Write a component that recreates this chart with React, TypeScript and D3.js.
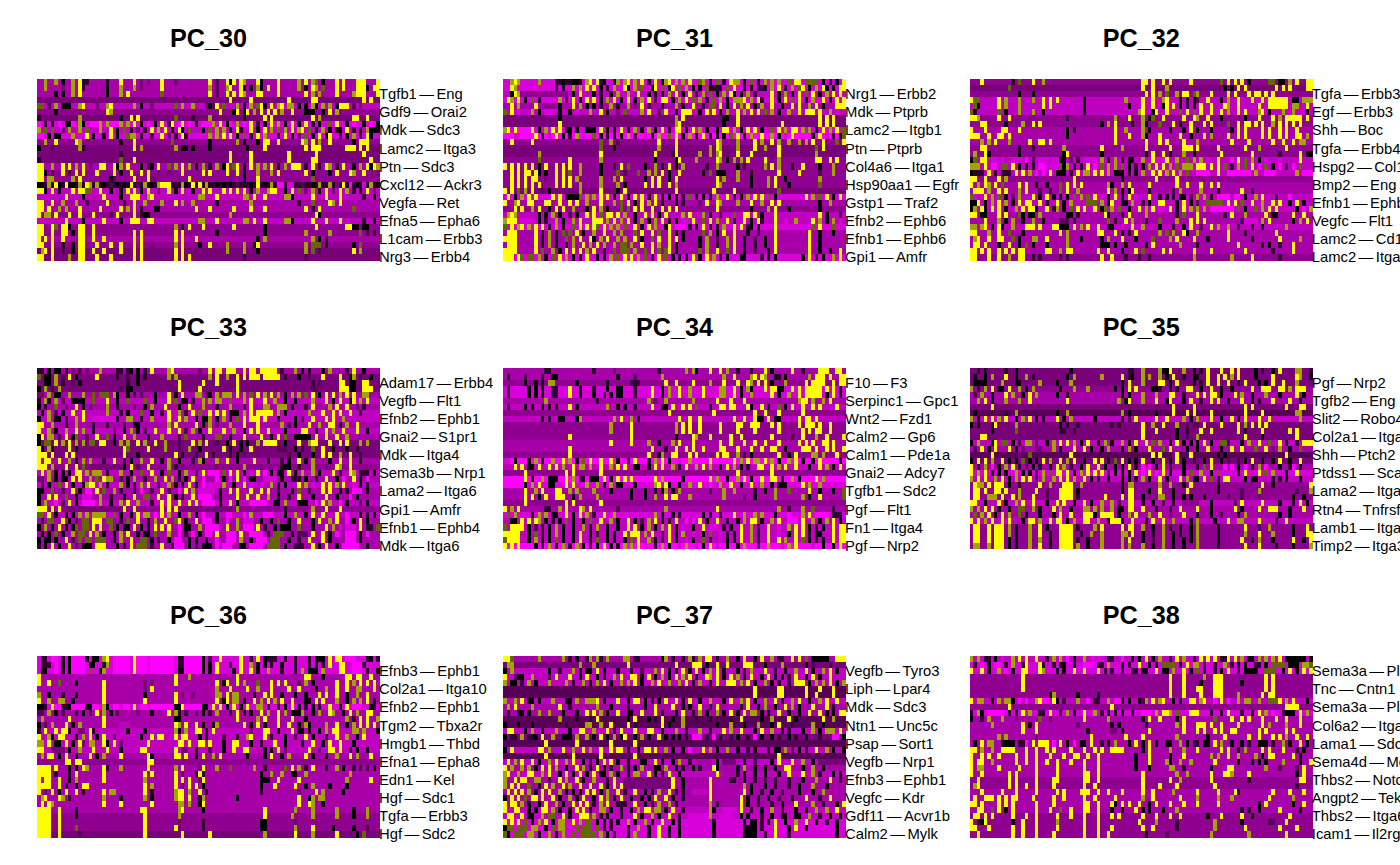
import React from "react";
import * as d3 from "d3";

const titles = ["PC_30","PC_31","PC_32","PC_33","PC_34","PC_35","PC_36","PC_37","PC_38"];
const labels = [
["Tgfb1-Eng","Gdf9-Orai2","Mdk-Sdc3","Lamc2-Itga3","Ptn-Sdc3","Cxcl12-Ackr3","Vegfa-Ret","Efna5-Epha6","L1cam-Erbb3","Nrg3-Erbb4"],
["Nrg1-Erbb2","Mdk-Ptprb","Lamc2-Itgb1","Ptn-Ptprb","Col4a6-Itga1","Hsp90aa1-Egfr","Gstp1-Traf2","Efnb2-Ephb6","Efnb1-Ephb6","Gpi1-Amfr"],
["Tgfa-Erbb3","Egf-Erbb3","Shh-Boc","Tgfa-Erbb4","Hspg2-Col18a1","Bmp2-Eng","Efnb1-Ephb1","Vegfc-Flt1","Lamc2-Cd151","Lamc2-Itga3"],
["Adam17-Erbb4","Vegfb-Flt1","Efnb2-Ephb1","Gnai2-S1pr1","Mdk-Itga4","Sema3b-Nrp1","Lama2-Itga6","Gpi1-Amfr","Efnb1-Ephb4","Mdk-Itga6"],
["F10-F3","Serpinc1-Gpc1","Wnt2-Fzd1","Calm2-Gp6","Calm1-Pde1a","Gnai2-Adcy7","Tgfb1-Sdc2","Pgf-Flt1","Fn1-Itga4","Pgf-Nrp2"],
["Pgf-Nrp2","Tgfb2-Eng","Slit2-Robo4","Col2a1-Itga1","Shh-Ptch2","Ptdss1-Scarb1","Lama2-Itga1","Rtn4-Tnfrsf19","Lamb1-Itga1","Timp2-Itga3"],
["Efnb3-Ephb1","Col2a1-Itga10","Efnb2-Ephb1","Tgm2-Tbxa2r","Hmgb1-Thbd","Efna1-Epha8","Edn1-Kel","Hgf-Sdc1","Tgfa-Erbb3","Hgf-Sdc2"],
["Vegfb-Tyro3","Liph-Lpar4","Mdk-Sdc3","Ntn1-Unc5c","Psap-Sort1","Vegfb-Nrp1","Efnb3-Ephb1","Vegfc-Kdr","Gdf11-Acvr1b","Calm2-Mylk"],
["Sema3a-Plxna1","Tnc-Cntn1","Sema3a-Plxna2","Col6a2-Itga1","Lama1-Sdc1","Sema4d-Met","Thbs2-Notch1","Angpt2-Tek","Thbs2-Itga6","Icam1-Il2rg"],
];

// Level codes -> scaled value on the purple/black/yellow ramp (estimated by eye).
const levels: Record<string, number> = {m:-2.5,n:-2.12,b:-1.88,c:-1.65,e:-1.41,f:-1.18,g:-0.86,x:-0.47,k:0,d:1,o:1.6,y:2.5};

// Each row: base level, then marks "column[-column]level". 30 rows, 100 columns.
const pc30 = [
"c 2o 5o 7k 10o 12y 13-14x 20x 24y 28y 30f 32f 36y 40f 50y 52g 55y 56k 57y 59y 60o 64y 65k 70y 76o 78y 80o 81d 83k 87y 89y 93-95y 99y",
"c 2o 7f 10o 12y 13x 20k 24o 28o 30f 36y 50o 52g 55o 56y 59y 60x 62k 64o 65k 67y 70y 76o 78k 80y 81o 83d 87y 89y 93-95y 96k 98y 99y",
"c 5k 7k 10o 12y 20k 24o 26y 36d 50y 52g 55y 57y 59y 60o 64-65y 70y 78y 80o 82o 87y 92o 93-95y 99y",
"f 56y 62y 73y 80-81y 95y 97y",
"b 0-1d 3g 5o 7k 8-9k 12o 13y 17f 20o 21y 28o 30k 33f 40d 42o 45o 49f 50k 51g 52y 54d 58o 60k 62o 64d 65y 66k 68y 70o 71y 73o 74o 76k 78k 80o 81k 83o 85o 87k 88-90y 92g 94f",
"e 5k 20y 21o 53y 57k 58y 60k 61y 63o 65y 67y 69y 71o 74y 78-79k 80k 83k 85y 87o",
"f 0x 12o 24k 27y 29y 32f 40d 45x 48f 50o 60k 66y 68y 72f 80y 82o 92-93y 96y",
"n 0m 2x 4k 6m 8-9k 10m 12o 13k 15-17m 18o 20o 21-23m 24o 26o 28y 30k 32m 34k 36y 38x 39y 41m 42y 44m 46k 48-50m 51o 53y 55k 56m 58o 60m 62y 64x 66k 68y 70o 72k 74y 76k 78y 80x 82k 85d 87y 90k 92m 95k 97m 99k",
"b 0o 2d 4d 7f 9o 12o 14d 16b 18o 21y 23k 25d 27x 29f 31x 33y 35o 37y 39k 41y 42k 44d 48k 50d 52o 54o 56k 58y 59x 62y 64k 66y 68o 70d 72o 74y 76o 77y 79d 81k 83o 85k 87x 88k 90y 92x 94k 96o 97-99k",
"n 0-1m 3k 5k 6k 10o 14y 16k 19k 21y 23k 26d 27-28o 30x 33g 36y 38f 40x 42y 43x 50o 52o 54y 56y 58k 60d 62x 64y 66o 70x 72y 74k 76f 78d 80k 82y 84k 85y 88x 90k 92o 94x 96y 97k",
"e 2o 5y 11y 12o 24k 28y 39d 50k 58o 60k 64k 66-67y 70y 77y 78o 80y 82o 85y 92k 94-96y",
"f 0k 4g 12o 13x 28y 30o 40o 42-43k 45k 50k 61k 66y 78y 80y 81-82y 90-92y 94y 96y",
"f 24x 40f 56-56y 62y 73y 81y 95y",
"f 0x 24d 28y 56y 62y 73y 80-81y 97y",
"c 0-1y 4o 7y 9y 11o 13y 15f 18-19y 22y 24o 23k 26y 30k 32g 33k 35y 38d 40o 42y 44o 46k 48o 50x 52o 54k 55y 57d 58y 60k 62y 64o 66o 68y 70k 72o 74-76y 78x 80y 82x 84y 85o 87x 89y 92k 94o 96y 97k 98y 99o",
"e 0-1y 2k 4g 7y 9g 11y 13y 17y 22y 24k 27y 30y 32y 35f 38f 42y 48y 50y 55y 58y 60k 64o 68o 70y 78y 80k 85k 87y 91y 92o 95y 99f",
"e 0-1y 3-4o 10o 12y 21k 22g 28y 32y 33-34f 44y 56f 60k 64y 80d",
"x 0-1k 3o 5y 6k 8y 9k 10k 12o 14y 15o 17o 19k 21g 23k 25k 27y 29g 31o 33k 35o 36-38y 40x 42o 43k 45y 47y 49o 52k 54k 56k 58g 60x 62k 64y 66k 68o 70-71m 73n 74n 77g 78x 80k 82o 85o 87f 89y 91m 93k 95n 97o 99k",
"b 0-1y 2k 4y 6k 10y 12-13y 14d 15d 18y 21k 24k 26y 28y 30k 32y 35f 38y 40k 42y 45k 48y 50y 54y 56y 58y 60y 62k 64o 67o 68-69y 72k 74y 76d 78f 80o 82k 84y 86f 88y 90o 92x 94k 96y 98f",
"b 8y 13k 19y 24k 27-29y 32o 33y 47o 48o 52y 60o 61o 63y 66y 72-73o 74k 80y 84y 88y 95x 98k",
"c 0-1y 4y 7o 11o 14g 20y 25x 28y 31o 36o 40y 42o 45o 52x 62o 76x 80d 85y 86o 88y",
"c 0-1y 3y 6o 8o 12y 18y 24y 26o 28y 30x 34-35k 46y 50y 57y 62y 66y 78y 80x 82y 92d",
"e 0y 2-3o 5y 9y 12y 16y 21g 23y 28y 30x 31k 32k 56o 72-73e 81y 82k",
"b 8y 13k 19y 24k 27-29y 32y 33y 47o 48o 52y 60o 61o 63y 66y 72-73o 74k 80y 84y 88y 95x 98k",
"e 0-1y 4y 5d 7-8y 9k 12-13y 16y 40o 42k 44y 48y 57y 66k 81y 90-91y 92k 93k 95-96k",
"e 0-1y 4y 7-8y 10k 12-13y 16y 28y 30y 40y 42y 52k 66k 78o 85o 94d 96g 98x",
"c 0y 2y 4y 7y 12-13y 16y 19y 28y 30y 40y 42y 46y 64k 66o 80o 82k 84x",
"e 0-1y 4y 7x 10k 12-13y 17y 21y 24y 28y 30y 33f 40o 42y 47k 50y 55o 60o 63k 64y 78o 80-82d 84k 92k 94d",
"f 1o 2y 4y 7g 10k 12-13y 16y 19y 24y 28y 30y 40y 42y 55o 60o 64k 78o 80d 82g 92y 94o",
"f 0y 1y 4y 7f 9o 12-13y 17y 21y 28y 30y 40y 42y 44y 60x 78g",
];
const pc31 = [
"n 2o 3y 4o 5n 10o 15-16x 17k 18-19x 20-21k 22x 24o 25y 27y 28x 29k 32x 33o 35o 36y 38o 40y 42x 44y 46k 47o 48y 50o 52o 54y 57d 58o 60k 62d 64x 66y 67-68o 70k 72d 74k 76o 78o 80o 83d 85-86y 88-91d 93k 95x 97k 99y",
"n 2y 3o 5n 11-14n 15x 17x 20o 22o 24y 26y 28k 30x 32o 35y 36k 38o 40d 43k 44y 46d 48k 49y 51d 53o 55k 57k 59d 60-63x 65d 67y 70k 72x 74-76x 78o 80y 82x 84o 86d 87y 89k 91o 93y 94k 96k 98y 99y",
"b 2k 3y 4o 5-18e 20k 22y 26k 28x 31k 33o 36o 39y 42k 44x 46k 48o 50y 52k 54y 56x 58o 60d 62k 64o 66y 67k 69k 71o 73x 78y 80k 82o 84k 86y 88d 90y 92k 94o 96y 98y",
"n 1y 2o 4y 6k 8d 10x 12-14n 16o 18x 20y 22k 24y 26y 28k 30o 32y 34k 36y 38k 40o 42y 44g 46-47y 49k 51o 53y 55d 57o 59x 61d 63o 65k 67-69o 70y 72o 74y 75x 78y 80k 82y 84d 86y 88k 90o 93y 95k 97y 99y",
"c 2y 4o 9y 12-14e 16k 20y 22o 24k 26k 28x 31o 33x 36o 38f 40y 42g 46x 50o 52k 55y 58x 60-61d 63y 65k 67y 69o 71y 73k 75o 78y 81k 84y 86y 89o 91y 93k 97y 98-99y",
"b 0d 2y 4n 8o 10k 12-14n 16k 19k 21n 25o 28y 30k 33f 35d 40o 42y 45g 47y 50k 52y 53-54y 57k 59y 61y 63k 65o 68y 70o 72y 74y 76d 78o 80k 83o 86y 88-90y 92y 95o 97n",
"f 16k 50o 52y 58-60f 64-65k 68y 70-71f 81f 92y 94y 96y",
"f 16y 50o 51y 64k 68y 81y 92y 94y 96y",
"n 0o 1y 3y 4-7m 8y 10k 12o 14y 16y 18x 19k 21k 24-26k 28y 30k 32k 34y 36k 38o 40k 42o 44k 46y 48x 50-51y 53k 55y 57o 59k 62k 64-65y 67o 69k 71y 73y 75k 78d 80y 82o 84-85y 87o 89o 91k 93y 95o 97y 99d",
"m 3-4n 9y 11x 13n 15y 17k 19x 21o 23n 26d 28k 30x 32k 34k 36o 38g 41n 43k 45o 48d 50y 52k 54o 56k 58y 60k 62x 64k 66d 68y 70k 72o 75y 78o 80k 82n 84y 86m 90k 92y 94n 96x 98k 99d",
"e 2y 8y 28d 31o 33g 45y 50y 62y 63o 68o 73y 75o 78y 80o 83o 86o 88o 90y 93y 97d 99y",
"f 28d 32k 45o 50y 60o 62y 63o 68o 73y 76o 80y 91d 93y",
"f 10o 28y 44y 49x 50y 57o 60o 62o 63y 68y 72y 80y 91o",
"e 10d 19y 28o 44k 50k 51y 56o 62y 63o 65k 67o 69o 71y 76y 78f 80o 91y 92y 95y 97y",
"e 0y 2y 4y 6y 8y 10k 12y 15y 17y 19y 22o 28k 32x 34y 36d 41k 44o 46k 48y 50k 52o 59x 62o 68k 70x 76o 78y 80o 84k 87y 92k 96o",
"e 2y 4y 6y 7y 9y 10k 12k 15y 17y 19d 22o 28k 33d 35g 39d 42o 44o 46y 48k 51y 58k 60d 62-64k 68o 72x 80y 86y 92g 96o",
"e 2y 4y 6y 8-9y 12f 15y 17y 19y 21o 28o 32o 34y 41k 43y 45y 48k 50y 62y 64o 68o 72k 77o 79y 82k 92o",
"e 2y 4y 6y 8y 10y 15y 17y 19y 22o 28o 33o 35k 41y 43y 45y 48y 50o 62y 63o 72k 77o 79y 83k 92d",
"f 0y 2y 4d 6o 8y 11g 13k 22o 28y 33k 35y 40f 44f 50y 60f 61y 67y 80d",
"n 1y 3k 5o 7y 9y 11-12n 14y 16y 18x 19-21k 22d 24o 26o 28y 30y 32k 34y 36k 38y 40y 42x 44y 46k 48k 50k 52x 54d 56k 58k 60k 62o 65y 67x 69k 71o 73y 75y 77d 79k 81-86n 88y 90o 92d 94y 96k 98y",
"c 0y 3o 4y 7-8y 12-13y 16y 19y 21y 24o 28y 32o 34d 36y 38k 40y 42o 44y 46k 50k 52x 57f 59y 62y 63o 68o 72y 75o 78y 80y 92k 95o",
"e 3y 5y 8o 10y 13k 15y 17y 20o 24k 26y 28o 30k 34d 36d 38y 40y 43y 46y 48y 50y 62y 72k 77o 79y 83k 92k",
"b 1o 2y 3o 5-8b 10k 12k 14o 16k 19g 21k 24y 26y 28d 30y 31y 33y 35o 38k 41y 43y 45k 47y 52o 54y 58o 60k 63g 67d 70-71y 73y 75k 79y 82-88b 92y 94k 98x",
"b 0o 1-3y 5-8n 10k 12x 15o 17k 20o 22y 26-27y 28y 30o 32y 34o 36y 38k 40o 42k 44o 46y 48x 50k 52-53n 55y 58d 60y 62o 65y 67x 70y 72k 74y 75x 79y 82n 85o 90y 92o 94k 96o 98n",
"n 0d 2y 4o 5y 7o 9y 11y 13x 15o 17x 20d 22y 24y 26y 27d 29y 31o 33o 35d 38y 40k 42y 44o 47k 48y 50-51m 52m 54x 56k 58y 60k 62x 64o 67y 69y 71x 72k 74k 79y 81-88n 90d 92y 96d",
"c 1-3y 4-8c 9y 11x 13o 15k 17d 19d 21y 23k 26o 29y 32o 34o 38d 40y 43y 45d 48y 50k 52k 58d 60o 62k 64y 67y 71k 74g 79y 89y 92k 96k",
"c 0-3y 5-8c 9y 11k 13o 15k 18d 20o 22y 25y 26k 28o 30y 33o 35o 38y 40k 43d 45y 48y 50y 52k 57k 59o 62g 65o 67y 70k 73g 76k 79y 89y 92k",
"c 1-3y 9y 11k 13o 15k 18x 20o 23y 25o 27y 29o 32o 34-35d 37o 40y 43y 45o 48y 50k 57k 59o 62x 65o 67y 70k 73x 76k 79y 89y 92k",
"c 0-3y 9y 11d 14o 16k 18y 20y 22y 24o 26y 29x 32d 34-36d 38o 41d 43y 45d 47d 48y 50k 57d 59o 62y 65d 67y 70k 73g 77k 79y 89y 92k 95k 98y",
"n 0-2y 4y 5d 7-8d 10o 12k 14d 16y 18o 20k 22k 24y 27k 29k 31o 33d 35y 37y 39o 41d 43x 45y 47d 49k 51x 53k 55y 57k 59y 61o 63x 65k 67n 69-70k 73n 75x 77k 79k 81-85n 87k 89y 91x 93k 96o 98y",
];
const pc32 = [
"e 3y 12x 14d 18y 21o 50y 51y 53y 56y 58y 64y 73d 75y 77y 79y 81k 87-88d 90-91k 93o 95y 98-99y",
"f 11d 50y 53y 57o 74k 76k 78y 80y 89y 91y 93y 98-99y",
"e 14k 18k 51y 53y 55o 57d 60o 62-63y 65d 66o 70y 75y 77y 81y 83-84y 86y 88y",
"b 0y 1-2d 8y 10o 14o 18o 21y 23y 25y 33k 45o 50y 53y 56o 57y 61k 63x 65k 66g 69y 73k 75o 78y 82y 85y 87-92y 94-95k 97-99o",
"b 1d 2k 8y 10o 14o 21y 23y 33k 46k 50y 53y 56k 57y 59y 61k 63x 65k 67y 70y 74y 75o 78y 84y 87-92y 94-95o 98y",
"b 0d 1x 8d 10k 14o 18o 21k 33k 49o 50y 53k 54y 57y 61d 63y 65d 67y 70y 73y 75o 78y 80y 84o 85y 87k 91o 94o 98x",
"e 0-1y 2o 8y 11y 28x 42o 46y 50o 52k 53d 56y 62y 65y 66o 69y 73k 80k 84y 88y 90o 92-94y 95-96y 98y",
"e 3y 4y 10k 15o 18y 20y 38k 40o 42y 47k 50o 51k 55d 59y 61k 64y 68y 70y 75d 78y 80-81y 83y 85y 88o 90y 92y 94y 96y",
"c 0y 4y 9-10y 14y 28k 30k 42y 45o 50o 52k 58k 62k 64y 66k 70k 76k 78y 80y 85y 87y 90y 92y 95y",
"c 0-2y 5y 8-9y 11y 28k 42y 46y 50o 51k 55y 61y 64k 68y 70o 75y 78y 80y 85y 87y 90y 92y 95-96y 98o",
"c 3o 5o 7y 11o 17y 20-21y 23y 42y 51y 55y 57y 62y 66o 76y 81y 88y 91y 94y 96-97o",
"e 3y 4y 14x 18x 27o 38y 44o 51y 58y 62y 63-64y 66y 72y 80y 84o 92y",
"e 1o 4y 5k 14k 28y 27k 38k 51k 53y 56y 58k 62o 65k 73y 82y 90x 96y 98-99k",
"b 0k 1d 3-4y 6-7n 9n 12-14n 16m 18g 20-22n 24-25n 26k 27k 29f 31x 33-36n 38o 40k 42o 44x 46k 47k 50o 53y 54-56n 57y 60o 63d 65o 67o 69n 72y 76m 78y 80d 82o 84k 86n 90n 96y",
"b 0o 1o 2o 4y 6-7m 9d 10d 12y 14k 16k 18x 20-21m 23-25n 26d 27k 28o 30x 32x 34y 36m 38d 40o 42o 44d 46k 48x 50k 52o 54y 56y 58o 60d 62-64o 66-68y 70y 72y 74d 76x 78o 80d 82y 84m 86d 88k 90m 92x 94m 96d",
"b 0k 1-3x 5y 7x 9-11x 13y 15y 17o 19m 21m 23y 25-26k 27k 29x 31y 33-34o 36y 38y 40o 42-44k 46x 48k 50o 53y 55y 57o 59y 61o 63d 66-69m 72y 75-81m 83o 86-88m 95o 97-99m",
"e 0-1y 4y 8y 10o 30y 44k 54y 60y",
"c 0y 2o 4y 5o 7y 9d 14y 16y 19k 22k 26d 28y 30y 32y 40o 41k 44o 46y 52y 60y 63y 67y 70y 72y",
"c 1-3y 5o 8y 10y 14o 16y 20g 23x 26d 28y 31o 40y 42o 44k 46k 47y 52x 59g 61o 67o 72k 79y 82x",
"b 0d 1n 4y 6o 8d 10k 12g 14o 18y 20k 22y 24k 26k 28k 30d 32o 34d 36y 38n 40k 42y 44k 46y 48n 52y 55x 57k 59x 61-62k 64g 66o 68o 70x 72-75m 77-78m 80k 83o 85y 89x 93m",
"b 0-1k 2y 4k 6o 8y 10o 12k 14y 16-17y 20y 22x 25y 27k 29o 34-36d 38o 40k 41y 44-45k 47o 50x 52k 55-56y 60k 62y 64k 66g 69-73d 75y 77y 79d 82y 85o 88y 90y 93k 95y 97k",
"b 0k 1o 3y 4k 6y 8y 10k 13o 15y 17-18y 19k 22y 24x 25o 27k 29d 31y 33y 36y 38k 39d 41o 43d 46k 49y 51o 53y 55-56n 58y 60k 62y 64o 66o 68o 70-76m 78d 80k 83d 85o 87y 89y 95k 97m 99o",
"c 0-1y 3-4k 8y 10y 14d 15k 17-18k 20o 28-29k 31x 39y 40k 44x 46y 51o 60x 62d 66y 74x 76y 80o 86y 88k 89k 94y 97y",
"c 4y 8o 10k 12o 15k 18o 21k 26-28g 30x 40d 42x 45y 47o 51x 55d 60o 64y 66y 68y 79g 80-83n 85o 87y 94k 96o 98y",
"b 0o 1o 3o 4y 6k 8y 9k 12o 16-18y 20y 24y 25y 26k 27-28k 30y 32o 34y 37y 40k 41k 44n 47y 50o 55k 59x 62k 64y 67g 70y 72o 75o 78x 82x 85k 92o",
"c 0-1y 5o 8y 11d 15k 26y 28o 37-38y 42y 44k 46x 48y 55o 57d 59o 62y 63k 66o 75y 80x 89y",
"c 1o 2y 5y 8y 9y 12d 14k 18-19o 22y 28o 32k 38k 40o 44y 48k 53d 58o 60y 65y 69k 75y 82k 90y 96o",
"c 1-2y 4y 8k 11y 14k 16d 18k 22k 28o 38-40k 42k 45k 51k 53y 61o 66x 78y 85k 87k 90x 94y",
"c 0-1y 3y 5y 8y 10y 12y 14y 15y 22-23y 26o 28-29y 37y 40y 44k 48y 50d 56y 58y 65y 70y 80y 88x 94y",
"e 0-1y 5y 8y 11o 14-15y 18x 20x 26x 28x 38y 41y 45x 49x 52x 65o 76o 82y 90x",
];
const pc33 = [
"c 0-1x 3k 5-6k 8x 10f 12g 14f 18o 23-24x 26x 27k 29k 31x 33y 38o 39y 47f 50y 52-53y 55-57y 60y 62-63y 65-69y 71x 75o 77k 79x 83k 85o 90x 92y 95k",
"f 0d 2-3k 5o 7g 9y 11k 15f 17y 23x 26g 29k 31x 38o 40o 50o 52y 55o 58y 60y 62-64y 66-70y 72x 76k 79g 83y 88y 91k 92o 94x 97k",
"f 2-3k 5o 7x 10g 12k 24f 26x 29k 41y 48y 52y 56f 58y 80x 82g 88-89y 91-92k 95-96y",
"f 0k 2o 4x 6o 12f 24g 26-27k 41y 47y 56f 58y 75f 80-81g 88-90y 91-92k 95-97y",
"c 0-1f 3o 5-6k 9o 13o 16d 18-20d 22o 23k 26k 28x 30g 34k 38y 40k 42y 46-47o 49g 50k 52o 54-56o 58y 60o 62d 64y 66o 68y 70o 72k 74o 76o 78d 80y 82k 84y 86y 88o 90y 92y 95-96o",
"b 0x 2o 3x 5o 7g 10-13k 16d 20y 23k 26d 31d 34k 38y 40d 42-43k 45x 48o 50o 52-53o 56d 60o 62y 66y 69o 72k 75k 80o 84y 86k 88y 91k 92y 94o 96y",
"c 0k 2x 5d 8f 11y 13x 15g 20o 23x 28f 31k 33o 37y 41k 44y 48o 52x 56o 60g 62y 66-67o 70-72o 74k 78x 80y 85o 87y 90y 93f 95x",
"b 1k 3o 5g 7k 10y 13y 20o 24x 26k 30d 33k 36x 38y 41o 43x 45y 47d 50y 52y 54y 56-57k 58k 60o 62y 64-68y 70o 72k 79o 83y 86y 88y 91y 94x",
"b 0k 3o 5-6k 8x 11o 13y 16-22n 23x 26-27o 30x 33o 38y 41y 43o 46k 48-49k 50o 52k 54o 56k 58d 60y 62-64y 66y 70k 75k 77g 80y 84y 86y 89o",
"c 0-1y 4o 8x 11o 16x 20x 25g 28-29k 38o 40y 46y 48k 50o 52f 56o 60y 64y 71o 73g 75k 79y 82o 85-86y 88k 90o 93y",
"b 0y 3o 5k 8o 11y 13o 16x 22f 25k 27o 29k 31g 34y 38y 41y 43g 45o 47k 50y 54y 57o 60k 62y 64y 67y 72k 77-78y 81x 84y 86o 89y 93y 96k",
"c 0k 1y 3-4o 6g 8y 10k 11d 14g 17y 20d 22k 25y 28o 32k 36o 41g 43d 48x 52-53d 56k 60y 65y 68k 70y 72d 75-79k 81y 84y 87y 90o",
"f 0k 2-3d 5y 7o 9y 11o 13o 15-16d 18-19y 22k 24o 26o 29y 31o 34y 37o 41g 45y 47o 49y 52g 55k 57y 59k 61k 64o 66-69y 72k 76y 79o 80-81y 85y 88y 90y 94o 96o",
"f 0y 1k 3o 4x 9y 11k 25y 26d 32y 37o 41g 44o 47k 50f 54y 56k 59k 62y 70-72g 75k 77x 80d 83y 86k 90k 93x",
"f 0-2y 4y 8y 10y 12-24f 25y 29k 40y 42k 46x 49y 51x 56x 58k 60g 70f 73g 76k 80k 83y 85y 88o 91y 94x",
"c 0y 2-3y 6y 9o 11k 13o 15o 19x 22y 25x 27k 30o 33y 36k 38o 41k 45x 47o 48k 52o 55y 58k 63y 67k 71x 73k 76y 78k 80o 85k 88y 91y 94k",
"e 0-2y 4o 8y 11y 13d 15-24f 25k 27y 29g 32y 38o 40x 42f 52f 60o 65f 71x 72-73k 76x 80o 84f 87y 88o 91y",
"b 1y 3o 5k 7k 9k 11-12y 14o 16-18o 20x 24o 27k 30d 33y 36k 38d 41k 43o 46g 48y 50-52m 54d 56y 58y 60k 62n 64y 66m 68k 70-71k 73y 75k 77o 80o 82k 86y 88x 91y 92o 94-96x 98k",
"c 0-1f 3o 5k 7-8k 10y 12y 15o 17d 19y 20-21o 24g 26k 28o 31x 34o 37y 39o 41x 43k 45y 48m 52m 54k 56m 58y 60m 62-63k 66-69n 71k 74-76x 78k 81x 84y 87k 89m 92y 94k 96m",
"b 1g 3k 6d 8y 10k 13k 14o 15-16y 18o 20x 24o 26k 28x 30o 32y 35g 38o 40k 42k 44y 46k 48m 50-52n 54o 57k 60y 62n 65n 68o 70k 72k 76y 78o 80n 83y 85y 87o 89y 92n 94k 96x",
"c 0-1k 4d 7g 10y 12k 14-15m 17y 19d 22o 24x 28x 30m 33g 36y 38g 41m 43y 45o 47-51n 53k 56y 58y 62y 65y 67y 70k 74k 76d 79g 83y 85y 88k 90x 92-94m 96k",
"c 0k 3y 5y 8d 11k 13-15n 18o 21x 25k 28y 31-32d 35y 38y 40k 42k 45y 47-50m 53k 58y 61y 64y 67o 70k 73x 76y 80k 84y 87k 91m 93k",
"b 0k 2o 5m 7g 9y 11k 13-16m 18o 21k 24o 26y 29o 33x 36y 38y 41y 44y 46y 48-51m 53k 56y 58k 62-66m 69-70k 72o 76-78k 81m 83y 85o 88m 90k 94g 96k",
"e 0-2y 4y 6y 8-24f 25y 28y 36y 38y 40y 42-57f 58o 72x 80o 84y 88y",
"b 0-1d 3y 5k 8k 10k 12o 14o 16-18o 19o 22d 24k 27k 29y 31-32o 34m 36y 38o 41k 44o 46k 48m 52k 55-56m 60m 62o 66-68m 72k 75o 78k 80y 83y 87y 90m 94k 96x 98k",
"c 1x 3-4d 7y 9k 11g 13-14d 16-18y 20-21d 24x 26d 29y 32k 34o 37y 40d 41y 43k 46y 48-50m 52k 55m 58o 60-62n 65k 68k 70d 73k 76y 80k 82y 85o 87y 90m 92k 94y 96k",
"c 0k 2o 4k 6y 8k 10k 11d 13-14d 16y 18y 21d 23k 25-26k 28y 30k 32k 34y 36y 38y 41m 43-44k 47o 49m 50-52m 55y 58o 60-62m 64y 66x 69k 71-73k 76d 80k 84y 86o 88n 90-92n 94y 96-97x 99d",
"c 1k 3k 5d 7k 10o 12-13d 15y 17o 19k 22k 24o 26y 29k 31-32k 34d 38o 41m 43x 45m 47k 49m 50m 52y 55-57m 59y 62-65m 67x 69-71d 74k 76-78g 80y 83y 85k 87m 90-92m 94k 96m",
"c 0k 2-3k 5k 8y 10g 12d 14-15d 17-19d 22k 24o 27y 30-31d 33k 35x 38k 40-41m 44k 46k 49k 52m 55-57m 59o 62k 64-66m 68-70d 73k 76x 79y 83y 85k 90-92m 94k",
"c 0x 2k 4y 6k 9y 11g 13-15k 17-19y 23k 25x 27y 29-31d 33x 36y 39x 40-42m 44k 46x 48-50k 52m 54-56m 59k 60k 62-65m 67-70d 72k 75-77x 80y 82k 84y 87k 89-93m 96k",
];
const pc34 = [
"c 12-13x 26x 32f 45x 53o 55o 56k 60y 63y 65o 68x 72x 76y 78k 84y 87x 92-94y 97-98y",
"c 1x 6g 11x 14-15k 33k 38g 46o 64o 67y 72o 73y 75y 76o 79k 80x 82k 89o 91-93y 95y 98-99y",
"e 6k 9k 11k 13-14o 21k 30k 37x 38-39x 47y 50y 55y 60o 64y 68y 71y 72o 74y 76y 78k 82o 88y 90-93y 96y 98-99y",
"n 1x 7k 9k 11k 14-15x 19y 22k 26x 30k 33-34k 38x 43y 46k 48o 51y 54o 58y 63o 64o 67y 69k 71o 72k 76y 78-79y 80k 81k 84y 86y 88-92y 94y 96y 98k",
"n 1x 7k 9k 11k 14-15x 19y 22k 26k 29x 31k 33-34k 38x 43y 46k 48o 51y 54o 58y 63-64o 67y 69k 72o 78y 80k 83o 86y 88-92y 94k 96y 98k",
"c 12o 27x 42o 44f 47o 55o 62y 66y 70y 86o 87-88y 90o 93o 95y",
"b 1x 6k 8k 11k 13x 15k 19y 21k 30o 33k 35k 38x 43y 46x 47k 49y 52y 54y 56d 60k 63-64y 66y 67y 71y 72k 75y 77k 80d 82k 84y 87y 90y 92y 97y",
"e 48y 61y 73y 76y 80y 87y",
"b 11k 13x 16-17k 21k 22o 32o 34y 37o 39k 51y 54y 57y 67y 70y 73y 74-75k 77y 79-80k 86y 88-89y 91y",
"e 31o 37y 50o 52y 54y 57y 63y 68-69y 72y 73-74y 78y 80y 86y 88-90y 92y 95y",
"e 31o 37y 50o 52y 54y 57y 63y 68y 73y 80y 87y 89y 91-92y 95y",
"e 19y 37y 50k 55y 56o 60y 66y 69y 78y 84x 87y 91o 94y 99y",
"c 31y 37y 42o 45k 49o 51y 55y 63y 66y 70y 73y 76y 80y 86y 88y 90y 93-94y 96y",
"c 19y 43y 47x 50y 53y 55y 58y 63y 64y 68y 72y 75y 78-79y 82k 87-89y 91y 94y 96y 99y",
"e 19y 42y 45k 46o 49-50y 54y 56y 62y 64-65y 68o 70x 72k 80y 83k 85y 90-91o 93o 97y",
"m 0-1n 3k 7k 9o 11k 14o 17y 19o 21k 23d 25y 28y 31y 33k 36x 38y 42x 44o 46y 48k 51n 54o 56-58m 60y 63-65m 67y 69o 71y 73-74o 76y 78o 80k 83o 85y 87k 90k 92y 95m 98k",
"b 3y 5y 7-8k 10y 13y 15y 17o 20y 22-23o 25o 28y 31o 33y 35y 38-39k 42k 44y 46y 49o 51x 53y 56o 58y 60o 63k 65y 67o 69k 71x 74-75y 78y 80o 82y 85y 89k 92y 94o 96k 98y",
"e 6y 18y 20y 28y 68y 78y",
"m 0-5m 6y 8k 11o 13-15k 18y 20o 22-23x 25-27k 29y 31k 33y 35y 37y 44y 46o 48m 52k 54m 57-58m 60y 62o 65k 68o 70y 72k 75y 78-79y 81k 84o 86k 88m 91y 93o 96m",
"n 0-5m 6k 8o 10y 13-14k 18y 20y 24o 27o 29k 31o 33-34k 38k 44o 45y 47y 48k 51k 54o 57y 60m 63o 66y 69k 72y 75o 78k 80-82k 87y 89o 92o",
"c 6y 9o 11y 15-16y 19o 21o 26o 31k 37k 41k 44x 46k 47o 49k 51o 60x 64o 67o 73x 76k 79o 83d 89y 92k 96k 99d",
"c 6y 8y 10k 12y 15-17y 20k 22o 27o 37k 41k 44o 47y 49-50y 54o 64o 70g 73k 79o 87o 89k 92y 99d",
"e 6y 18y 20y 28y",
"c 0y 2o 4y 12-13x 16o 18y 22y 23o 25y 33g 47o 62y 80o 83x 87o 90d 96x",
"n 1d 3o 5n 8k 10o 12o 14-15k 18y 20k 22y 24o 26x 29y 32o 36n 38n 40n 44o 46k 49k 51x 53n 55n 58k 60k 63x 67y 70o 73o 75o 79k 83m 87o 89y 91-94m 96-98x",
"b 2k 3k 5y 7y 9y 10o 12k 14x 16k 18d 20k 23k 25d 28y 31o 33k 36y 38k 40g 42o 44y 46k 48x 50y 53m 55m 57y 59k 62y 65x 68k 70o 72-73y 75k 78o 80y 83-85m 87y 90o 92k 94o 96y 98k",
"b 0d 2-5y 7k 9g 11x 13k 15o 17k 20k 23o 25k 27o 30k 33k 36y 38y 40k 42o 44k 46o 48y 50k 52n 55k 58y 60-62n 64x 66k 69y 72o 74x 77y 80n 83o 85y 87y 89k 91x 93k 96y 98-99y",
"b 0-4y 7k 9d 11x 13k 15o 17k 20k 22y 25k 27g 30k 32k 35y 37-39y 41o 43y 46g 48y 50k 52o 55n 58k 60d 63n 65x 67k 69y 72o 74k 77y 80n 83k 85y 87y 89x 91-92k 96y 98-99y",
"b 0d 1-4y 7k 9o 11k 13k 15d 17k 20k 22y 25x 27d 30k 32k 35k 37d 39y 42o 44k 46g 48y 50k 53n 55k 58d 60x 63n 65k 67k 69y 72o 74x 77y 80y 82o 85y 87d 89k 91x 93k 96y 98-99y",
"m 0y 2y 4y 6-7m 9k 11x 13o 15k 17o 19x 21o 23k 25x 27k 29y 31k 33k 35o 37o 39y 41n 44x 46o 48k 51n 53o 56n 58k 60y 62n 65k 68k 70o 74x 77o 81n 83o 85y 90n 93k 96k 98y",
];
const pc35 = [
"f 2x 4x 10x 13k 29k 46-47x 50o 55o 56-57k 58y 62o 65k 67x 69y 73y 76y 78y 83k 85x 88k 90y 95-96o 99x",
"f 1k 4k 6o 10y 13k 16o 18x 28k 30o 38o 44y 46x 47k 50o 52o 55o 57k 59y 62x 65-66k 69y 72y 74y 76o 78y 83k 88y 95y 96o 99k",
"f 1-3k 4k 9o 13-14k 20o 25k 29o 44k 46y 50o 55-56y 58k 60y 65k 67x 69y 72y 75y 78x 80y 84k 86k 88y 91y 95o",
"e 0o 2x 4o 6y 8-9k 11y 14o 16k 18o 26k 30o 34o 42k 44k 46y 48y 53-54k 55x 58k 60x 63-64y 67k 70y 73k 76k 82y 85-87y 90-91y 93o 95-97y",
"c 1g 3o 6k 10y 12o 15k 17y 19o 25k 28x 44k 46k 50o 54o 58-59y 62x 66y 68y 70-71y 73k 77y 79o 82k 86o 90k 95y 97k",
"c 2o 4y 6k 10o 14o 17y 28y 43o 45k 46y 50o 54y 57k 58y 62k 64y 67x 70y 72y 75k 79y 82k 84x 88y 93y 96k",
"f 6y 42f 58-60f 59y 65y 80y 82y 92y 96-97y",
"g 1k 10x 13o 25k 28o 42g 44o 46k 54k 59y 63y 65y 70y 80y 85y 95-96o",
"b 0o 2k 4y 6y 8o 10y 13k 15o 17y 19k 21x 25y 27k 29o 36k 44x 46g 48y 54y 57y 62o 64k 66o 70y 73k 76y 78k 80y 84y 87y 96o",
"f 0k 2k 6x 7y 13o 26k 28x 31x 41x 43x 50y 53o 56y 60o 63g 65-66g 68y 73y 78y 80o 82y 84y 86y",
"f 6k 13d 26-27x 30x 41f 44f 50y 54y 60k 63x 67y 70y 78y 80x 85y 93y 95y",
"f 3-4y 50y 60k 63g 66o 77f 80y 85k 95y",
"b 0k 2o 6k 7y 9-10d 12k 14g 16-17o 19g 22k 24o 26y 28y 30o 32k 34y 37k 39o 41k 44o 46k 48y 51y 53d 55o 58k 60y 62k 64k 66k 68y 70k 73-74d 75g 79k 81o 84y 87d 90y 92k 95x 97-99y",
"c 1g 3y 5k 7y 11y 13k 15f 19-20f 24o 26k 30y 33y 35k 38k 40o 44k 46o 48k 52y 56d 58y 63k 66k 69y 73k 76y 79y 83d 86y 88f 90o 93k 96d",
"g 2g 6y 14f 17d 29y 46g 53y 55y 59f 60y 64y 72k 74k 92y",
"f 0k 2y 4y 6o 9y 11k 13k 15d 17k 19k 21y 23o 26y 28o 30y 33k 36y 38y 40k 42d 44y 46k 48k 50y 53k 56y 58k 60y 62k 65x 68k 70y 73k 75g 78x 80k 82y 85k 88k 90y 93k 96y",
"c 0y 2x 4o 6m 8k 10o 12y 14x 16g 18k 20x 23k 25y 27o 29x 32k 34y 37y 39k 42k 44k 46y 48x 50m 52m 54k 56y 58x 62k 66x 68d 70y 74m 76m 78k 80m 82x 84o 86m 90k 93x 94m 96k",
"n 0y 2o 4y 6k 8k 10k 13o 15k 17k 19g 21o 23d 25-26y 28y 30k 32o 34y 36y 38y 40g 42k 44k 46k 48y 50m 52y 54m 56y 58k 62k 64d 67o 70k 72d 74-75n 78k 80y 84y 86d 88o 92k 95y 97n",
"b 0o 2y 4y 7o 9y 11k 13o 15y 17y 19g 21o 24o 26y 28y 30o 33y 35k 37x 40k 44k 46k 48x 50o 52k 55y 57k 61y 63o 65-66k 68y 70d 72x 74-75y 80k 82-83k 88x 90x 92k 96k",
"e 1y 2-3o 5y 7y 8-9y 11k 14x 20y 23o 27-29y 32o 44k 46-47o 55o 58o 62k 64y 72k 85y 88k 99y",
"e 1-2y 4y 7-8y 10y 14o 19y 22g 26-29y 31k 44k 46-47y 52k 55y 59k 63y 72k 79g 84o 95g 99o",
"e 1-2y 5-7o 9y 12y 14o 18y 22g 26-29y 31x 39y 44y 46-47y 50k 55-56o 59k 62k 64k 68k 75g 79g 84f 94k 97k",
"b 0-1y 4k 8y 10k 13o 15y 18y 22k 25y 27y 30k 33y 35k 38o 41o 43g 46-47y 50x 53k 56g 59x 62-66e 70k 77g 79y 85y 90k 94x 96y 98k",
"c 0o 2o 4y 6y 8k 11k 14-15d 18o 20k 24y 26o 29k 33-34o 36o 38o 41o 43k 44k 46-47y 50y 54k 58x 61y 66y 70k 77y 79k 84y 87-89y 93k 97y",
"c 1d 3o 5y 7k 9y 11o 14d 16k 20k 24k 26y 29y 33-35y 36k 38-41y 43k 46o 48y 52o 55y 58f 62y 66x 70k 73g 78k 80o 90k 93k",
"b 0y 2y 4o 6y 9y 11y 15k 17-18y 20o 23y 25-26y 28k 30o 33-34y 37o 40k 41-43y 44x 47y 51k 53y 56y 59o 64k 66o 71k 75y 78-79o 84y 89x 92y",
"e 1-2y 5y 7-9y 11o 13k 17o 20y 22k 26-29y 31x 36o 38y 44y 46-47y 50o 53k 56o 58x 61k 64k 66o 72k 80y 84g 87o 94k 98y",
"e 1-2y 5y 7-9y 11o 13k 17o 20y 23k 26-29y 32x 35o 38o 44-45o 47y 50k 53x 56o 59k 61x 64k 66o 72k 80o 84y 88o 94k 98-99y",
"e 1-2y 5y 7-9y 11k 13k 17o 20o 23k 26-29y 31x 34k 38o 44o 46y 50k 53g 56o 59k 62k 64k 66o 72k 79y 82k 84o 88k 94y 97k 99y",
"e 1-2o 5o 7-9y 11k 13k 17o 20y 23k 26-29y 31o 34k 38o 44o 46o 50o 53k 56o 59k 62k 66o 72k 80y 84y 89k 94k 99o",
];
const pc36 = [
"n 1-2x 4-5m 7x 9k 10-13m 14k 16k 17k 19o 20y 22-24m 25-26m 28y 29-31m 33-39m 41-42x 43-47m 48k 50g 53y 55n 59y 62x 64y 66k 67-69x 72x 75x 79x 81-83k 85y 87-88y 90-91m 92m 96x 97k 99x",
"n 1-3x 5m 7k 9k 10-13m 15k 16k 19x 20o 22-24m 25-26m 28y 29-31m 33-39m 41-42x 43-47m 48k 50k 52y 54n 56x 59y 62o 64k 66k 68x 71k 75x 79x 81k 83x 85y 88-89y 92-94m 95x",
"n 1-2k 5m 7x 9k 10-13m 15d 18k 19o 22-24m 25-26m 28y 29-31m 33-39m 41-42k 43-47m 48k 50k 52y 55n 57k 59y 62y 64k 67o 71x 75x 77o 79-81k 83o 88-89y 92-94m 96x 99k",
"c 0y 40y 44o 58y 78-79y 83k 90-91y 93-94y 97y",
"c 0y 3y 6d 11k 19y 31f 33f 40y 52y 54k 55y 58y 60o 64d 68y 70y 72y 76f 78o 80k 87y 90y 92o 94y 96y 98y",
"c 19y 31f 33y 52o 56y 61y 64o 68y 73y 76y 81k 84o 87y 90y 93-94o 98y",
"c 0o 3k 7x 11k 19y 31k 40y 42f 45f 52-53o 55y 57-58o 63k 66y 68y 71k 75k 78k 82y 84y 87y 90k 93o 96y",
"c 0y 3o 6-7o 10k 19y 31y 40y 52y 54k 55y 57-58o 60k 63y 65o 67y 69o 71y 74y 78-79k 81y 83y 87o 90k 92o 94o 96y 98k",
"n 0-1k 2x 4y 5-6m 7-8x 9k 10-13m 14-15k 16-17m 19o 20k 22-23m 25-26m 28y 30-31m 33-39m 40-41k 42y 43-47m 48-49k 51y 53y 55k 57y 59k 61y 64-65o 67x 70x 72k 74y 76x 78x 80k 82x 85y 88k 90y 92-94m 97k 98x",
"c 0-1g 3o 5k 7g 11x 13k 15g 17y 19o 21k 23g 29f 33k 38y 40o 41x 43x 46g 48k 50x 52o 56x 58y 60k 62k 65y 67o 70y 72o 74-76k 77o 80k 82o 85y 86o 89k 91y 93o 96-97y",
"c 1o 9y 19y 40-41k 58y 64o 66y 70y 74y 78k 90o 92x 94y 96y 99o",
"c 0k 2g 4o 8y 10k 12o 19y 24-26b 40y 41o 43y 46y 48k 51k 52o 60y 62k 64y 66k 70y 73y 76k 78o 79k 84o 87y 90k 92o 94y 96y 98y",
"b 0x 2y 5y 7-8y 9x 12-13f 15y 16x 18-19b 26k 31k 40o 41k 43o 46-47y 49k 51y 53-55b 62f 66-67y 70k 74y 76-77k 79x 82k 84o 86-87y 92-93o 95o 99k",
"b 0y 3o 4k 6-7y 11k 13o 15y 17k 19y 22f 24-26b 30k 33y 35-36y 40y 42-43y 47k 49k 54g 58x 61o 62y 66y 68x 72k 75g 78y 80k 84x 87y 90o 93k 95y",
"b 0-1o 3y 5-6k 8y 10k 12y 13f 15-16o 19y 20k 22y 24f 32y 41-42y 44y 47-48y 50y 54k 57-58y 62k 65x 69y 72k 77k 80y 83k 85y 88y 92k",
"b 0-1y 4-7f 9k 12o 16y 20y 24k 30-31y 40y 42-43f 46k 50g 54k 57y 60-61y 66k 68k 70y 72f 79y 82f 85-86y 88y 91x 93k 96k",
"c 1o 3y 4y 6k 8y 11k 15y 17k 19o 24y 32y 33k 40y 41y 43y 46k 48y 51o 53y 61k 66k 68y 71k 73o 78y 80k 84k 87o 91y 93o 97y",
"e 8-9y 11-12y 32-33y",
"c 0-3y 5y 9k 11k 13y 14o 19y 20x 24o 32y 40o 42y 47f 48y 52o 56d 63o 66x 72d 74y 76o 78x 80y 84k 87o 89k 92x 94x 96g 98k",
"c 0-3y 5x 9x 11y 19y 31y 33y 40y 42f 46x 47y 48x 65k 68o 71o 74-75k 78o 91o",
"c 0y 1b 2y 3y 6y 9k 11o 19y 31o 40y 42y 44y 47f 48y 65-67k 70y 76y 90o 97y",
"c 0-3y 6y 8x 11k 13-14y 31y 33o 40y 42f 44y 46y 48k 65k 69y 75y 78k 80o 85k 90k",
"c 0y 2f 4y 6k 8y 11y 13x 19y 21-22o 31y 33x 40o 41-42y 44o 47y 49k 65x 76f 81y 83o 89k",
"c 1o 2y 6y 7o 9x 19o 24k 31o 33k 40o 41-42y 44y 47x 48o 58k 76y 79k 80o 82-83o",
"c 1y 3y 4o 19y 24y 33y 41-42o 44o 47k 48y 76y 79y 80o 83k",
"c 0-3y 6y 11k 30-31y 41o 42y 48k 66y 75o 80o 87o 92k 96o",
"e 0-3y 6y 11k 31y 41o 66y 74o 80o 87o 92k 96o",
"e 0-3y 6y 31y 41f 48x 65-66k 75f",
"e 0-3y 6y 11d 31y 40y 41f 48x 65-66k 75o 80y 86k 92k 96g",
"f 0-3y 6y 12g 31y 42y 50y 66o 75y 80o 87y 93k 95d",
];
const pc37 = [
"c 0-1y 2d 10o 17o 19x 21k 24x 25o 27o 28x 30o 35-36o 38-39x 46k 47o 49x 52x 54o 55x 57o 59-60y 62x 65o 68k 70y 73k 75y 78o 80-81x 84y 86y 88d 90-93k 94k 97-99y",
"f 1-2o 22o 26o 36y 50y 55-57y 59k 62y 65y 70-72y 76k 81o 88k 90g 95x",
"b 0k 2o 6-10b 13k 16x 20o 22k 24-25k 27y 29k 33k 37x 40g 44o 46y 48k 50x 52y 54k 56y 58k 60o 62y 64k 68k 70x 72o 76y 79x 82k 85o 88y 90k 93o 95y 97k",
"b 0y 3g 4k 5k 8o 13g 15y 19y 22k 24y 27k 29x 32o 34y 37-38y 40k 42y 44k 46o 48k 50y 52o 54y 56k 59y 60o 62y 64k 66y 68o 70k 72y 75k 77y 79x 81k 83x 85y 88k 90y 92k 95y",
"b 0o 2-3k 5x 7o 9k 13o 18o 20x 23o 25k 27o 29y 31k 34o 36o 38y 40k 43o 45y 48o 51o 53y 55x 57o 60x 62y 65-67y 69o 71y 73k 76o 78k 80x 83x 85-87y 89k 91o 93o 95y 97k 99o",
"g 73y 80-81y 88y 92y 96y",
"g 73y 80-81y 88y 91y 96y",
"b 0o 3o 5y 7-8k 10k 14o 18-19k 21o 24-26o 27y 29k 33y 36k 38-39y 41k 43x 45k 47y 50y 52x 54y 57k 60o 64k 66y 69o 71y 73k 76o 79y 81k 84o 86y 89k 92o 94y 97y",
"c 1o 3y 8o 16y 19x 27o 31k 36x 41k 44y 49y 52k 54k 57y 60x 62y 69x 71y 74k 76o 79k 82y 84o 86k 90y 94y 96x",
"c 1x 4x 5k 7k 10o 13o 17k 21k 24y 26y 28o 30k 33y 36-37k 40y 44y 46k 50k 52y 55x 57o 59k 62o 64k 66y 68k 70y 72-73o 75k 77k 80y 83k 86k 89y 92y 94k 96k 98-99y",
"g 16o 21x 25x 27y 32x 36k 38y 42k 44x 46y 49k 52o 56x 60x 66x 69y 75k 78o 83y 85k 93y 96o",
"g 0k 4k 8k 13g 18x 24-25o 28o 31y 36y 38x 46y 48k 52o 56g 62k 66o 70k 74o 78k 80y 84x 90o 93k",
"b 1-2y 6k 8o 11k 15o 19k 22-23y 26o 30y 32x 34y 38y 42-43y 46k 50o 53x 57o 60k 64y 66o 69y 73k 75y 78o 81k 83x 87k 90o 92k 94-96o 98y",
"f 0k 2-3x 5o 7-8x 9k 11y 14o 17-19k 21o 24o 26k 28y 30k 32o 34k 35y 38k 40o 42k 45y 47k 49k 51k 53x 55-57m 59x 61m 63k 66x 68k 71x 73m 75k 78k 80x 83k 85x 88k 92x 96m 97m 99k",
"g 12y 21y 31y 38y",
"b 0k 2y 4-7b 10-11y 13o 17y 20o 23y 25o 28y 31y 33-34y 36k 39k 41-42y 44y 47o 49k 52k 54m 58y 60o 62k 65o 68k 71x 73k 77x 79-80k 82o 84g 86k 88x 91y 94o 96k 99k",
"g 12y 20y 28y 38y 80y",
"b 1y 3o 5y 8y 10k 13o 15y 18o 20y 23k 25x 27k 29y 31y 33k 36k 40-41k 44y 46k 49k 51o 54x 56-60c 62k 64-67f 70k 73g 78k 80y 84y 87o 90k 92-99f",
"c 0y 2o 5o 7o 9k 11y 13y 15o 18k 21y 23o 25k 27y 29k 31x 34o 36k 38k 40o 44-45k 47o 50k 52x 55k 57x 61y 62k 68k 70o 73k 76k 79k 82-83y 87k 90o 93k",
"b 0o 1y 4o 7-8y 11o 13y 16k 18y 20k 22y 24k 26y 28-29k 31o 33k 36k 38-39o 42y 44k 46x 48y 51k 54-60b 62y 64-67c 68x 70k 73k 76k 80k 83y 87y 90o 92x 96k 98k",
"c 0o 3y 5-6y 9-10o 13g 16y 18o 21y 23k 26o 30x 32y 35-48f 49y 52k 55-58c 60y 66-67x 70k 73x 76g 79x 83x 87k 91o 95y 98x",
"c 0o 2y 4y 7d 10x 12y 14o 17y 19o 22y 25y 28y 30k 32y 34y 35-48f 49y 52k 55-58c 60y 64-67c 70o 72k 76k 79x 83x 86k 90o 94k",
"c 1y 3y 5y 7o 9k 11y 13y 16o 18k 20k 22k 24y 26y 28k 30o 33y 35x 38y 41k 43k 45o 48y 50x 52x 55-59b 60y 64-67c 70y 72k 75x 78k 81x 86k 90k 93o",
"c 0k 2y 4y 6d 8-9y 11y 14y 16k 19o 21k 23y 26k 28y 30o 32k 34y 37k 40k 42k 44y 47y 49k 52x 55-59c 60y 64-66c 69y 71k 74k 77k 80g 84k 88y 92x 95y",
"c 0y 2-3y 5o 7k 10k 12y 15o 17k 20y 22y 24y 26x 28o 30y 33-35x 38y 41k 43x 45o 48o 50k 55-59c 60o 62x 69y 71k 74x 78x 81k 85y 90o 93x 97k 99y",
"b 0y 3-4y 7k 9k 11-12y 14o 16k 19k 21y 23y 25k 28-29o 31k 34x 37k 39o 41-42y 44-45o 47k 49y 52x 55-59b 60o 61k 64-67n 69y 72x 75k 78o 81x 85k 88k 91o 94o 97y",
"b 1-2y 5y 7-8k 11o 13-14d 17y 19k 22-24y 26o 28x 30k 34x 38y 40k 43o 45k 48y 51x 54-59n 60o 63-66n 69k 71k 75x 78k 81-82k 85-86k 89o 92x 95k 98k",
"n 0y 2y 4y 6d 8k 10o 12y 14k 16-17o 20y 22o 24-25d 27k 29k 31x 33k 36o 38k 41o 43k 46y 49k 51x 54-59n 61k 64-67n 70k 72-73k 75x 77k 79y 82k 85o 88y 91k 94x 97k",
"n 0k 1-2d 4-6d 8-9o 12k 14d 16-17o 21d 23-25d 27d 29k 31x 34n 36k 39o 42k 45y 48k 51k 53-59n 61k 64-68n 70-73k 75x 79y 83k 85y 88k 92-95n 97k",
"n 0d 1k 3-5d 7-8o 10k 13o 15k 17o 20d 22-26d 28o 30k 32x 34n 36k 38o 42k 45y 48x 51k 55-59n 61k 65-67n 70-73k 76x 79y 83x 87n 93-95n 97k",
];
const pc38 = [
"b 0o 2o 4-5x 7k 9n 12o 14y 16y 19y 22x 24o 26o 28m 30k 33o 35-38n 40-41x 44m 47k 49k 51y 53k 55o 58x 60y 62o 65x 67y 69y 71y 73-74x 75y 77y 79o 81-82k 84o 86o 88o 90y 92-95k 96-97k 99k",
"n 1x 3m 5k 7-8m 10x 12o 15x 16y 20y 21x 24x 26-27k 30k 33-35m 37-38x 40o 42n 44k 46x 49y 52k 54k 56-59d 61k 63y 65-66o 68x 71x 74o 76x 78k 80k 83-84x 86k 88-91d 93-95k 97-98o 99d",
"n 0y 3y 5k 8o 10m 12k 15y 16y 20y 21o 25k 27k 30y 33y 37y 39x 41x 44x 47-48x 50-51k 54y 56-57k 59o 62y 64k 66d 68x 71x 73k 75y 78x 80-83k 86-88d 91k 93y 95k 97y 99y",
"e 15y 58y 62y 68o 71-73y 86y 88y 99f",
"e 15y 58y 62y 67k 71-73y 79k 86y 88y",
"e 15y 58y 62y 66-67y 71-73y 86y 88y",
"e 23k 24o 31k 37k 58y 62y 67y 71-73y 78o 85y 87-88y",
"b 0y 2-3o 6k 8o 10-11o 12k 14m 16m 19o 20y 21-22m 24y 25k 27x 31o 34m 36-37x 40o 42-43m 44k 46k 49k 50g 51o 53y 55o 56y 59k 61k 64-65y 67o 68y 71m 73y 75m 78o 80-81o 84o 87-89d 90y 92o 94y 98k",
"e 11y 41y 92-95y",
"n 0x 2o 3k 5-9m 11x 13k 15y 17o 20-21x 23y 26x 28o 30k 33y 36o 38x 40k 42x 44k 47x 50-52m 54o 56-57y 58o 60d 64-66y 70x 73x 75y 79x 82k 84y 86o 88m 91x 92-94k 96y 98o",
"c 0k 3x 5o 9o 13f 20d 23f 33y 40o 50k 52y 55y 60k 62y 71d 76y 79y 81y 85y 89y 92y 96y",
"c 6o 15y 17k 19y 31f 41k 43k 51k 60o 62y 66-68y 70y 73y 78y 85y 87o 92o 96y",
"c 15y 19y 34k 41-42f 44k 52y 62y 66y 68y 71y 73y 76-77y 84y 86y 92y 94y",
"c 8o 10o 19f 35y 45y 50y 60o 69k 74y 81y 84y 88y 90y 92o 95y 98y",
"c 1k 3y 5-6o 9k 10-12k 14-15x 16m 18y 20-22y 24m 26y 28k 30m 32-33k 35y 38x 40k 42o 46k 48y 50k 52y 54k 57-58k 61o 63k 65-66x 68-69k 71y 73o 76k 79k 81x 84-86k 88x 91o 93k 96y 98k",
"c 0-1y 3o 6o 9-11y 12y 16y 19y 22y 24y 29y 33y 36y 38y 41-44y 50k 52y 58o 62o 66y 73y 75y 78k 80o 85y 87y 91y 95x 97k",
"c 0y 3y 5y 8y 13y 16y 19y 23y 27y 30-31y 34y 37y 48k 52y 58k 62y 70o 72o 75y 78o 83o 85k 87-88y 94y 96k",
"c 0y 2-3y 6o 13y 16y 19y 22y 25y 29y 33y 37y 48k 52y 57o 58k 61o 64o 71y 78k 82k 84k 86k 91o 96k 99y",
"c 0y 2-3o 8y 14y 19y 25y 33y 37y 48k 52k 58-59o 62x 70k 75-76y 86o 90g 95g 97y",
"c 0y 3y 11y 13y 19y 25y 33-34y 37y 50y 60o 63o 70y 74-75y 76o 81y 95k 97y",
"e 2y 11y 13y 19y 24-25y 33-34y 37y 50y 58y 61o 70y 81x 96y 97y",
"e 1o 2y 11y 13y 16y 19y 24y 33y 36y 50y 55y 60y 71y 95x",
"c 3y 9y 13y 19y 25y 27y 32-34y 37y 40y 44y 50y 53y 59o 66y 72y 77y 78x 88y 93y 97y",
"c 1y 4-5y 6y 8y 10y 12-13y 18y 24y 27y 33y 36y 42y 50o 53y 61y 66o 72o 76o 87y 94o",
"c 0-1y 3y 8y 10y 12y 19y 24y 33-34y 37y 41y 42k 44y 46y 49y 52k 54y 58y 62y 66y 72y 84k 86y 94k 97y",
"c 2-3y 6d 8y 10k 12y 19y 23y 26d 29y 33-34y 37y 41k 44k 48y 50k 52k 56k 60o 79k 81x 84k 90y 96k",
"e 1-2y 4y 6y 12y 16y 19y 25y 29y 33y 37y 41y 43y 50y 54y 58y 61y 69k 73y 79y 82k 93y",
"e 0y 2x 3k 4y 12k 15y 19y 25o 33y 37y 49y 54o 60x 71o 79k 87-88g 92y",
"e 0-1y 5y 12y 15y 19y 25y 33y 37y 41y 50y 53y 60x 71o 80y 90y 95y",
"e 2y 12y 15y 19y 24y 33y 37y 40y 51k 57g 70o 81o 92y",
];

const matrices = [pc30,pc31,pc32,pc33,pc34,pc35,pc36,pc37,pc38];
const colStarts = [37.2,503.3,970];
const rowStarts = [79,367.6,656];
const panelW = 342.4, panelH = 181;
const color = d3.scaleLinear<string>().domain([-2.5,0,2.5]).range(["#ff00ff","#000000","#ffff00"]);

function expand(row: string): number[] {
  const tokens = row.split(" ");
  const cells = d3.range(100).map(() => levels[tokens[0]]);
  tokens.slice(1).forEach((t) => {
    const m = t.match(/^(\d+)(?:-(\d+))?([a-z])$/);
    if (!m) return;
    const a = +m[1], b = m[2] ? +m[2] : a;
    for (let c = a; c <= b && c < 100; c++) cells[c] = levels[m[3]];
  });
  return cells;
}

export default function App(){
  return <svg width={1400} height={865} style={{position:"absolute",left:0,top:0,background:"#fff"}} fontFamily="Liberation Sans">
  {titles.map((t,i)=>{
    const x0=colStarts[i%3], y0=rowStarts[Math.floor(i/3)];
    const x=d3.scaleBand<number>().domain(d3.range(100)).range([x0,x0+panelW]);
    const y=d3.scaleBand<number>().domain(d3.range(30)).range([y0,y0+panelH]);
    return <g key={t}>
      <g shapeRendering="crispEdges">
      {matrices[i].map((row,r)=>expand(row).map((v,c)=>
        <rect key={r+"-"+c} x={x(c)} y={y(r)} width={x.bandwidth()+0.5} height={y.bandwidth()+0.5} fill={color(v)}/>))}
      </g>
      <text x={x0+panelW/2} y={y0-32} textAnchor="middle" fontWeight="bold" fontSize={25.2}>{t}</text>
      {labels[i].map((l,k)=>{const [a,b]=l.split("-");
        return <text key={k} x={x0+panelW-0.6} y={y(3*k+2)!+y.bandwidth()/2+5.2} fontSize={14.8}>{a}<tspan dx={2.4}>—</tspan><tspan dx={2.4}>{b}</tspan></text>})}
    </g>})}
  </svg>
}
